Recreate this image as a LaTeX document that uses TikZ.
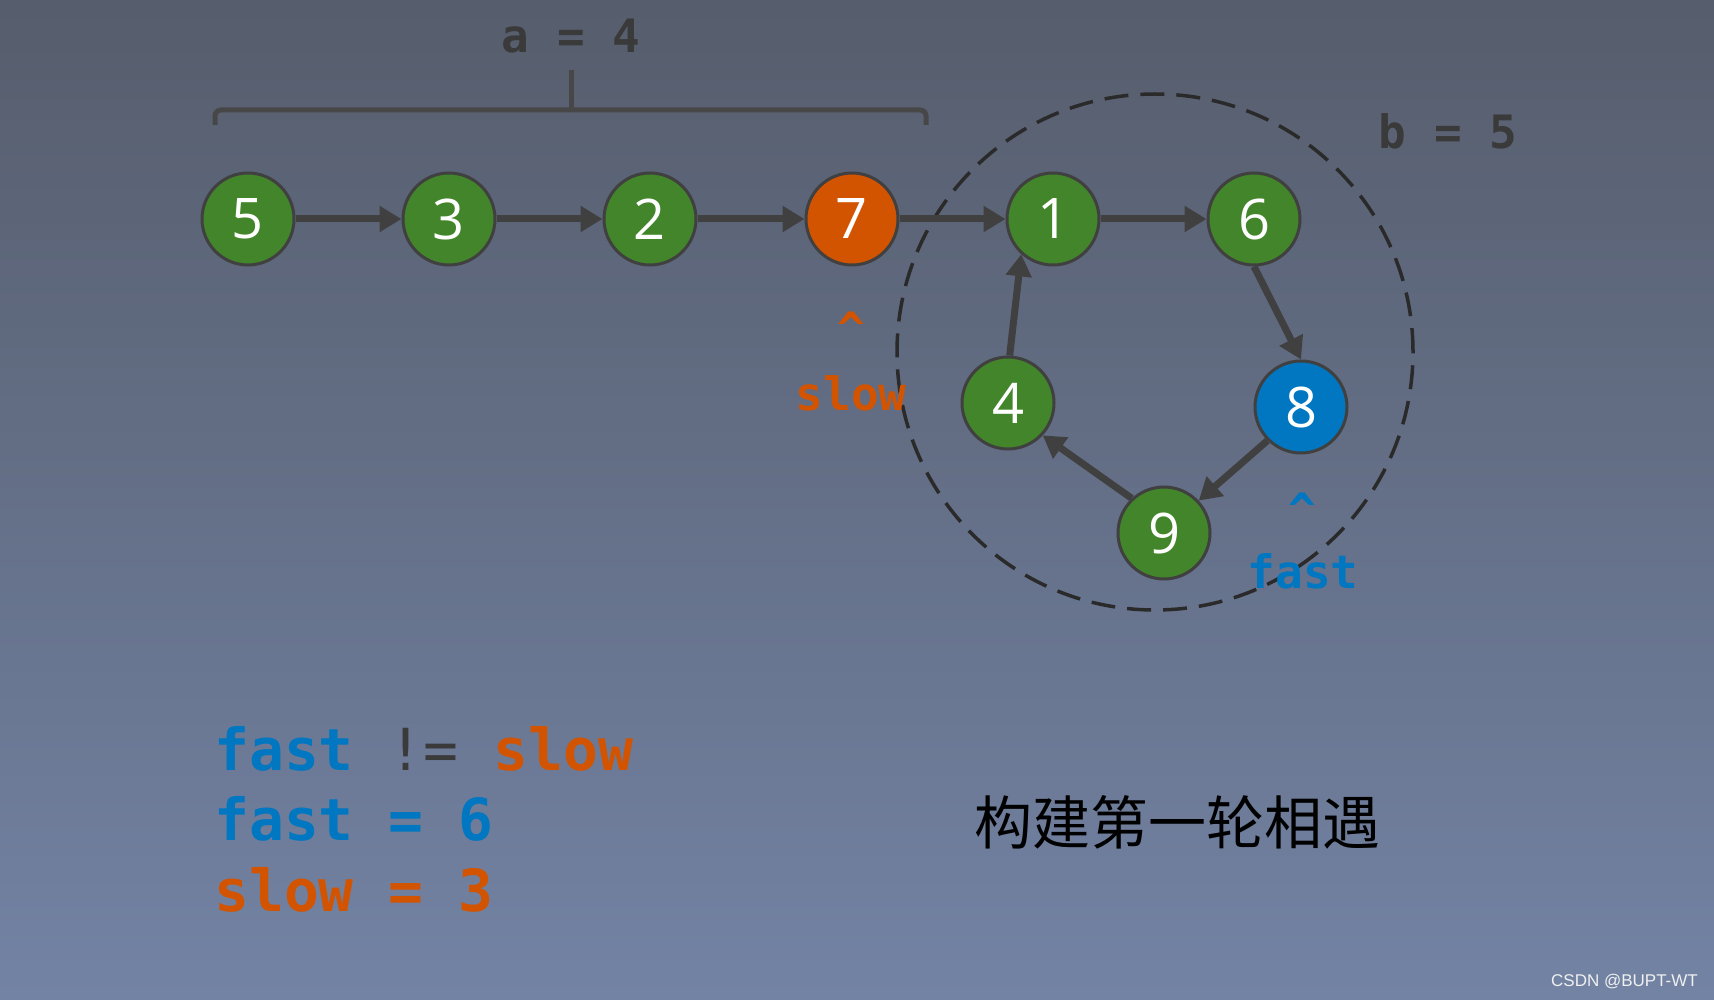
\documentclass[tikz,border=0pt]{standalone}
\usepackage{fontspec}
\setmainfont{Open Sans}
\newfontfamily\numfont{Open Sans}
\newfontfamily\monofont{DejaVu Sans Mono}
\newfontfamily\cjkfont{Noto Sans CJK SC}
\newfontfamily\wmfont{Liberation Sans}
\usetikzlibrary{arrows.meta}
\definecolor{bgtop}{HTML}{565D6C}
\definecolor{bgbot}{HTML}{7383A4}
\definecolor{greenc}{HTML}{43852A}
\definecolor{orangec}{HTML}{D35400}
\definecolor{bluec}{HTML}{0077C0}
\definecolor{edgec}{HTML}{404040}
\definecolor{labc}{HTML}{3A3A3A}
\definecolor{bracec}{HTML}{474747}
\definecolor{dashc}{HTML}{2A2A2A}
\begin{document}
\begin{tikzpicture}[x=1pt,y=-1pt,
  nd/.style={circle, minimum size=92pt, inner sep=0pt, draw=edgec, line width=3pt, text=white, font={\numfont\fontsize{56}{60}\selectfont}},
  gn/.style={nd, fill=greenc},
  on/.style={nd, fill=orangec},
  bn/.style={nd, fill=bluec},
  link/.style={draw=edgec, line width=7pt, -{Triangle[length=22pt,width=25pt]}},
  biglab/.style={text=labc, font={\monofont\bfseries\fontsize{46}{50}\selectfont}},
  ptr/.style={font={\monofont\bfseries\fontsize{46}{50}\selectfont}, anchor=base, inner sep=0pt},
  code/.style={font={\monofont\bfseries\fontsize{58}{62}\selectfont}, anchor=base west, inner sep=0pt},
  bracel/.style={draw=bracec, line width=5pt, rounded corners=6pt},
  ring/.style={draw=dashc, line width=3.5pt, dash pattern=on 24pt off 12pt},
]
% background
\shade[top color=bgtop, bottom color=bgbot] (0,0) rectangle (1714,1000);
\useasboundingbox (0,0) rectangle (1714,1000);

% cycle ring
\coordinate (rc) at (1155,352);
\draw[ring] (rc) circle[radius=258pt];

% brace for a
\coordinate (bl) at (215,125);
\coordinate (bm) at (571,110);
\coordinate (br) at (926,125);
\coordinate (bt) at (571,70);
\draw[bracel] (bl) |- (bm) -| (br);
\draw[bracel] (bm) -- (bt);
\node[biglab] (alab) at (571,36) {a = 4};
\node[biglab] (blab) at (1448,131) {b = 5};

% nodes
\node[gn] (n5) at (248,219) {5};
\node[gn] (n3) at (449,219) {3};
\node[gn] (n2) at (650,219) {2};
\node[on] (n7) at (852,219) {7};
\node[gn] (n1) at (1053,219) {1};
\node[gn] (n6) at (1254,219) {6};
\node[gn] (n4) at (1008,403) {4};
\node[bn] (n8) at (1301,407) {8};
\node[gn] (n9) at (1164,533) {9};

% links
\draw[link] (n5) -- (n3);
\draw[link] (n3) -- (n2);
\draw[link] (n2) -- (n7);
\draw[link] (n7) -- (n1);
\draw[link] (n1) -- (n6);
\draw[link] (n6.south) -- (n8.north);
\draw[link] (n8.225) -- (n9.43);
\draw[link] (n9.133) -- (n4.317);
\draw[link] (n4.88) -- (n1.228);

% pointers
\node[ptr, text=orangec] (scaret) at (851,346) {\^{}};
\node[ptr, text=orangec] (slab) at (851,410) {slow};
\node[ptr, text=bluec] (fcaret) at (1302,526) {\^{}};
\node[ptr, text=bluec] (flab) at (1303,588) {fast};

% code lines
\node[code] (c1) at (214,770) {\textcolor{bluec}{fast} \textcolor{labc}{\mdseries !=} \textcolor{orangec}{slow}};
\node[code] (c2) at (214,840) {\textcolor{bluec}{fast = 6}};
\node[code] (c3) at (214,911) {\textcolor{orangec}{slow = 3}};

% caption
\node[font={\cjkfont\fontsize{58}{62}\selectfont}, text=black, inner sep=0pt] (cap) at (1177,822) {构建第一轮相遇};

% watermark
\node[font={\wmfont\fontsize{17}{20}\selectfont}, text=white!88!gray, anchor=east, inner sep=0pt] (wm) at (1698,982) {CSDN @BUPT-WT};
\end{tikzpicture}
\end{document}
